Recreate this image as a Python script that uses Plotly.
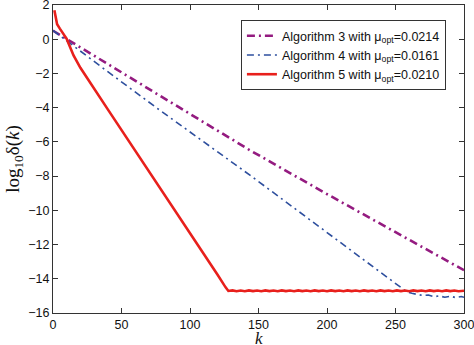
import plotly.graph_objects as go

# ---- data ----
alg3_k = [0, 1, 78, 144, 200, 250, 300]
alg3_y = [0.5, 0.45, -3.3, -6.5, -9.05, -11.3, -13.5]

alg4_k = [0, 1, 40, 78, 144, 200, 258, 262, 266, 270, 274, 278, 282, 286, 290, 294, 298, 300]
alg4_y = [0.5, 0.45, -1.9, -4.15, -7.96, -11.3, -14.75, -14.85, -14.92, -14.98, -14.95, -15.05, -15.0, -15.08, -15.02, -15.1, -15.04, -15.08]

alg5_k = [1, 2, 3, 5, 7, 10, 15, 20, 40, 60, 78, 100, 120, 126, 128,
          131, 134, 137, 140, 143, 146, 149, 152, 155, 158, 161, 164, 167, 170,
          173, 176, 179, 182, 185, 188, 191, 194, 197, 200, 203, 206, 209, 212,
          215, 218, 221, 224, 227, 230, 233, 236, 239, 242, 245, 248, 251, 254,
          257, 260, 263, 266, 269, 272, 275, 278, 281, 284, 287, 290, 293, 296, 300]
alg5_y = [1.7, 1.15, 0.88, 0.62, 0.4, 0.02, -0.95, -1.67, -4.1, -6.5, -8.66, -11.3, -13.75, -14.5, -14.71,
          -14.68, -14.73, -14.69, -14.73, -14.68, -14.72, -14.69, -14.73, -14.68, -14.72, -14.69, -14.73, -14.68, -14.72,
          -14.69, -14.73, -14.68, -14.72, -14.69, -14.73, -14.68, -14.72, -14.69, -14.73, -14.68, -14.72, -14.69, -14.73,
          -14.68, -14.72, -14.69, -14.73, -14.68, -14.72, -14.69, -14.73, -14.68, -14.72, -14.69, -14.73, -14.68, -14.72,
          -14.69, -14.73, -14.68, -14.72, -14.69, -14.73, -14.68, -14.72, -14.69, -14.73, -14.68, -14.72, -14.69, -14.73, -14.7]

names = ["Algorithm 3 with \u03bc<sub>opt</sub>=0.0214",
         "Algorithm 4 with \u03bc<sub>opt</sub>=0.0161",
         "Algorithm 5 with \u03bc<sub>opt</sub>=0.0210"]

x_ticks = [0, 50, 100, 150, 200, 250, 300]
y_ticks = [2, 0, -2, -4, -6, -8, -10, -12, -14, -16]

fig = go.Figure()
fig.add_trace(go.Scatter(x=alg3_k, y=alg3_y, mode="lines", name=names[0],
                         line=dict(color="#941b80", width=2.6, dash="8px,4px,2px,4px")))
fig.add_trace(go.Scatter(x=alg4_k, y=alg4_y, mode="lines", name=names[1],
                         line=dict(color="#2e4f9e", width=1.6, dash="7px,4px,2px,4px")))
fig.add_trace(go.Scatter(x=alg5_k, y=alg5_y, mode="lines", name=names[2],
                         line=dict(color="#e8201c", width=2.6)))

axis_common = dict(showline=True, linecolor="#333333", linewidth=1, mirror="ticks",
                   ticks="inside", ticklen=5, tickcolor="#333333", showgrid=False,
                   zeroline=False, ticklabeloverflow="allow", automargin=False,
                   tickfont=dict(family="Liberation Sans, Arial", size=12.5, color="#111111"))

fig.update_xaxes(range=[0, 300], tickvals=x_ticks, **axis_common)
fig.update_yaxes(range=[-16, 2], tickvals=y_ticks, **axis_common,
                 title=dict(text="log<sub>10</sub>\u03b4(<i>k</i>)", font=dict(family="Liberation Serif, Times New Roman", size=19, color="#111111"),
                            standoff=3))

fig.add_annotation(text="<i>k</i>", xref="paper", yref="paper", x=0.5, y=0,
                   xanchor="center", yanchor="bottom", yshift=-36, showarrow=False,
                   borderpad=0,
                   font=dict(family="Liberation Serif, Times New Roman", size=17, color="#111111"))

fig.update_layout(
    width=474, height=345,
    margin=dict(l=53, r=10, t=5, b=32),
    plot_bgcolor="white", paper_bgcolor="white",
    showlegend=True,
    legend=dict(x=0.956, y=0.951, xanchor="right", yanchor="top",
                bgcolor="white", bordercolor="#333333", borderwidth=1,
                font=dict(family="Liberation Sans, Arial", size=12.5, color="#111111"),
                tracegroupgap=0, itemwidth=30),
)

fig.write_html("out.html")
